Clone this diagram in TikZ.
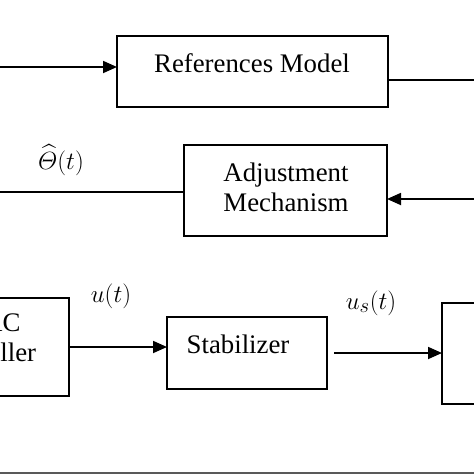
\documentclass[tikz,border=0pt]{standalone}
\usepackage{amsmath}
\usepackage{fontspec}
\setmainfont{Liberation Serif}
\usetikzlibrary{arrows.meta}
\begin{document}
\begin{tikzpicture}[x=1pt,y=-1pt,
  blk/.style={draw,line width=2.2pt,inner sep=0pt,outer sep=0pt},
  txt/.style={font=\fontsize{26.8}{30}\selectfont,align=center,inner sep=0pt},
  lbl/.style={font=\fontsize{30}{34}\selectfont,inner sep=0pt},
  wire/.style={line width=1.8pt},
  arr/.style={wire,-{Triangle[length=14pt,width=12pt]}}]
\useasboundingbox (0,0) rectangle (474,474);
\clip (0,0) rectangle (474,474);
\fill[white] (0,0) rectangle (474,474);
% blocks
\node[blk,minimum width=271pt,minimum height=71pt] (ref) at (252.5,71.5) {};
\node[txt] (reft) at (252,63) {References Model};
\node[blk,minimum width=203pt,minimum height=91pt] (adj) at (285.5,190.5) {};
\node[txt] (adjt) at (286,187) {Adjustment\\Mechanism};
\node[blk,minimum width=139pt,minimum height=98pt] (ctrl) at (-0.5,347) {};
\node[txt] (ctrlt) at (-19,338) {MRAC\\Controller};
\node[blk,minimum width=160pt,minimum height=72pt] (stab) at (247,353) {};
\node[txt] (stabt) at (238,344) {Stabilizer};
\node[blk,minimum width=98pt,minimum height=101pt] (plant) at (491,353.5) {};
% free ends
\coordinate (inref) at (0,67);
\coordinate (outref) at (474,80);
\coordinate (outadj) at (0,192);
\coordinate (inadj) at (474,199);
% connectors
\draw[arr] (inref) -- (inref -| ref.west);
\draw[wire] (outref -| ref.east) -- (outref);
\draw[wire] (outadj -| adj.west) -- (outadj);
\draw[arr] (inadj) -- (inadj -| adj.east);
\draw[arr] (ctrl.east) -- (ctrl.east -| stab.west);
\draw[arr] ([xshift=7pt]stab.east) -- (stab.east -| plant.west);
% labels
\node[lbl] (theta) at (61,160) {$\widehat{\varTheta}(t)$};
\node[lbl] (ut) at (111,296) {$u(t)$};
\node[lbl] (ust) at (371,303) {$u_s(t)$};
% bottom edge
\fill[black!65] (0,472) rectangle (474,474);
\end{tikzpicture}
\end{document}
